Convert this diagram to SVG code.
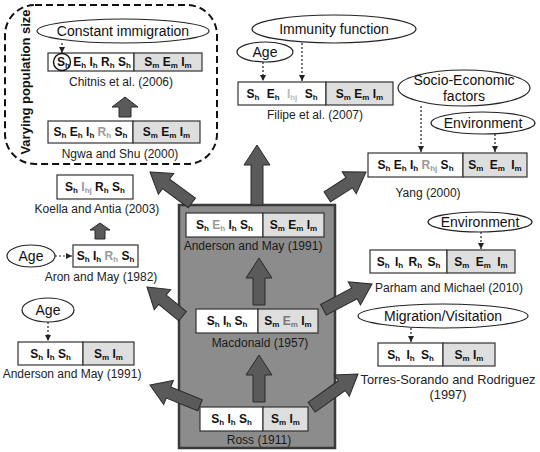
<svg xmlns="http://www.w3.org/2000/svg" width="540" height="452" viewBox="0 0 540 452">
<style>
.lb{font-family:"Liberation Sans",Arial,sans-serif;font-size:12px;fill:#222;text-anchor:middle}
.el{font-family:"Liberation Sans",Arial,sans-serif;font-size:14px;fill:#111;text-anchor:middle}
.c{font-family:"Liberation Sans",Arial,sans-serif;font-size:12px;font-weight:bold;fill:#111;text-anchor:middle}
.s{font-size:8px}
.g{fill:#999}
.lg{fill:#bbb}
.bw{fill:#fff;stroke:#333;stroke-width:1.2}
.bg{fill:#dedede;stroke:#333;stroke-width:1.2}
.ov{fill:#fff;stroke:#222;stroke-width:1.2}
.ba{fill:#5a5a5a;stroke:#2a2a2a;stroke-width:1}
.da{fill:none;stroke:#222;stroke-width:1.2;stroke-dasharray:2 2;marker-end:url(#ah)}
</style>
<defs>
<marker id="ah" viewBox="0 0 6 6" refX="6" refY="3" markerWidth="6" markerHeight="6" orient="auto" markerUnits="userSpaceOnUse"><path d="M0,0 L6,3 L0,6 z" fill="#222"/></marker>
</defs>
<rect width="540" height="452" fill="#fff"/>

<g id="core-region">
<rect x="179" y="205" width="156" height="243" fill="#8c8c8c" stroke="#3a3a3a" stroke-width="2.5"/>
</g>

<g id="varying-region">
<rect x="5" y="5" width="212" height="159" rx="30" ry="30" fill="none" stroke="#111" stroke-width="2" stroke-dasharray="7 4"/>
<text x="30" y="82" transform="rotate(-90 30 82)" style="font-family:'Liberation Sans',Arial,sans-serif;font-size:13px;font-weight:bold;fill:#111;text-anchor:middle">Varying population size</text>
</g>

<g id="connectors">
<polygon class="ba" transform="translate(257,145)" points="0,0 13,20 6,20 6,60 -6,60 -6,20 -13,20"/>
<polygon class="ba" transform="translate(150,172) rotate(-53.6)" points="0,0 13,20 6,20 6,52 -6,52 -6,20 -13,20"/>
<polygon class="ba" transform="translate(147,287) rotate(-50.7)" points="0,0 13,20 6,20 6,46 -6,46 -6,20 -13,20"/>
<polygon class="ba" transform="translate(150,385) rotate(-68)" points="0,0 13,20 6,20 6,54 -6,54 -6,20 -13,20"/>
<polygon class="ba" transform="translate(366,172) rotate(57.3)" points="0,0 13,20 6,20 6,46 -6,46 -6,20 -13,20"/>
<polygon class="ba" transform="translate(372,284) rotate(62)" points="0,0 13,20 6,20 6,55 -6,55 -6,20 -13,20"/>
<polygon class="ba" transform="translate(358,374) rotate(54.4)" points="0,0 13,20 6,20 6,57 -6,57 -6,20 -13,20"/>
<polygon class="ba" transform="translate(259,258)" points="0,0 13,20 6,20 6,47 -6,47 -6,20 -13,20"/>
<polygon class="ba" transform="translate(259,355)" points="0,0 13,20 6,20 6,47 -6,47 -6,20 -13,20"/>
<polygon class="ba" transform="translate(125,97)" points="0,0 13,10 6,10 6,20 -6,20 -6,10 -13,10"/>
<polygon class="ba" transform="translate(100,223)" points="0,0 10,7 5,7 5,16 -5,16 -5,7 -10,7"/>
<line class="da" x1="62" y1="43" x2="62" y2="53"/>
<line class="da" x1="55" y1="256" x2="72" y2="256"/>
<line class="da" x1="48" y1="322" x2="48" y2="341"/>
<line class="da" x1="263" y1="62" x2="263" y2="81"/>
<line class="da" x1="302" y1="43" x2="302" y2="81"/>
<line class="da" x1="421" y1="106" x2="421" y2="152"/>
<line class="da" x1="495" y1="134" x2="495" y2="152"/>
<line class="da" x1="481" y1="232" x2="481" y2="249"/>
<line class="da" x1="411" y1="328" x2="411" y2="342"/>
</g>

<g id="constant-immigration">
<ellipse class="ov" cx="123" cy="31" rx="86" ry="12"/>
<text class="el" x="123" y="36">Constant immigration</text>
</g>

<g id="chitnis">
<rect class="bw" x="48" y="53" width="86" height="18"/>
<rect class="bg" x="134" y="53" width="68" height="18"/>
<circle cx="62" cy="62" r="8.5" fill="none" stroke="#111" stroke-width="1.4"/>
<text class="c" x="57" y="66" style="text-anchor:start">S<tspan class="s" dy="2">h</tspan><tspan dy="-2"> E</tspan><tspan class="s" dy="2">h</tspan><tspan dy="-2"> I</tspan><tspan class="s" dy="2">h</tspan><tspan dy="-2"> R</tspan><tspan class="s" dy="2">h</tspan><tspan dy="-2"> S</tspan><tspan class="s" dy="2">h</tspan></text>
<text class="c" x="168" y="66">S<tspan class="s" dy="2">m</tspan><tspan dy="-2"> E</tspan><tspan class="s" dy="2">m</tspan><tspan dy="-2"> I</tspan><tspan class="s" dy="2">m</tspan></text>
<text class="lb" x="121" y="86">Chitnis et al. (2006)</text>
</g>

<g id="ngwa">
<rect class="bw" x="48" y="121" width="85" height="22"/>
<rect class="bg" x="133" y="121" width="67" height="22"/>
<text class="c" x="90.5" y="136">S<tspan class="s" dy="2">h</tspan><tspan dy="-2"> E</tspan><tspan class="s" dy="2">h</tspan><tspan dy="-2"> I</tspan><tspan class="s" dy="2">h</tspan><tspan dy="-2" class="g"> R</tspan><tspan class="s g" dy="2">h</tspan><tspan dy="-2"> S</tspan><tspan class="s" dy="2">h</tspan></text>
<text class="c" x="166.5" y="136">S<tspan class="s" dy="2">m</tspan><tspan dy="-2"> E</tspan><tspan class="s" dy="2">m</tspan><tspan dy="-2"> I</tspan><tspan class="s" dy="2">m</tspan></text>
<text class="lb" x="120" y="158">Ngwa and Shu (2000)</text>
</g>

<g id="koella">
<rect class="bw" x="57" y="175" width="76" height="24"/>
<text class="c" x="95" y="191">S<tspan class="s" dy="2">h</tspan><tspan dy="-2" class="g"> I</tspan><tspan class="s g" dy="2">hj</tspan><tspan dy="-2"> R</tspan><tspan class="s" dy="2">h</tspan><tspan dy="-2"> S</tspan><tspan class="s" dy="2">h</tspan></text>
<text class="lb" x="97" y="213">Koella and Antia (2003)</text>
</g>

<g id="age-aron">
<ellipse class="ov" cx="31" cy="256" rx="24" ry="11"/>
<text class="el" x="31" y="261">Age</text>
</g>

<g id="aron">
<rect class="bw" x="73" y="245" width="65" height="22"/>
<text class="c" x="105.5" y="260">S<tspan class="s" dy="2">h</tspan><tspan dy="-2"> I</tspan><tspan class="s" dy="2">h</tspan><tspan dy="-2" class="g"> R</tspan><tspan class="s g" dy="2">h</tspan><tspan dy="-2"> S</tspan><tspan class="s" dy="2">h</tspan></text>
<text class="lb" x="101" y="281">Aron and May (1982)</text>
</g>

<g id="age-anderson">
<ellipse class="ov" cx="48" cy="310" rx="26" ry="12"/>
<text class="el" x="48" y="315">Age</text>
</g>

<g id="anderson-left">
<rect class="bw" x="18" y="342" width="65" height="23"/>
<rect class="bg" x="83" y="342" width="51" height="23"/>
<text class="c" x="50.5" y="358">S<tspan class="s" dy="2">h</tspan><tspan dy="-2"> I</tspan><tspan class="s" dy="2">h</tspan><tspan dy="-2"> S</tspan><tspan class="s" dy="2">h</tspan></text>
<text class="c" x="108.5" y="358">S<tspan class="s" dy="2">m</tspan><tspan dy="-2"> I</tspan><tspan class="s" dy="2">m</tspan></text>
<text class="lb" x="72" y="378">Anderson and May (1991)</text>
</g>

<g id="anderson-center">
<rect class="bw" x="186" y="213" width="77" height="24"/>
<rect class="bg" x="263" y="213" width="61" height="24"/>
<text class="c" x="224.5" y="229">S<tspan class="s" dy="2">h</tspan><tspan dy="-2" class="g"> E</tspan><tspan class="s g" dy="2">h</tspan><tspan dy="-2"> I</tspan><tspan class="s" dy="2">h</tspan><tspan dy="-2"> S</tspan><tspan class="s" dy="2">h</tspan></text>
<text class="c" x="293.5" y="229">S<tspan class="s" dy="2">m</tspan><tspan dy="-2"> E</tspan><tspan class="s" dy="2">m</tspan><tspan dy="-2"> I</tspan><tspan class="s" dy="2">m</tspan></text>
<text class="lb" x="253" y="250" style="fill:#1a1a1a">Anderson and May (1991)</text>
</g>

<g id="macdonald">
<rect class="bw" x="196" y="309" width="62" height="24"/>
<rect class="bg" x="258" y="309" width="60" height="24"/>
<text class="c" x="227" y="325">S<tspan class="s" dy="2">h</tspan><tspan dy="-2"> I</tspan><tspan class="s" dy="2">h</tspan><tspan dy="-2"> S</tspan><tspan class="s" dy="2">h</tspan></text>
<text class="c" x="288" y="325">S<tspan class="s" dy="2">m</tspan><tspan dy="-2" style="fill:#777"> E</tspan><tspan class="s" style="fill:#777" dy="2">m</tspan><tspan dy="-2"> I</tspan><tspan class="s" dy="2">m</tspan></text>
<text class="lb" x="260" y="347" style="fill:#1a1a1a">Macdonald (1957)</text>
</g>

<g id="ross">
<rect class="bw" x="200" y="407" width="63" height="24"/>
<rect class="bg" x="263" y="407" width="45" height="24"/>
<text class="c" x="231.5" y="423">S<tspan class="s" dy="2">h</tspan><tspan dy="-2"> I</tspan><tspan class="s" dy="2">h</tspan><tspan dy="-2"> S</tspan><tspan class="s" dy="2">h</tspan></text>
<text class="c" x="285.5" y="423">S<tspan class="s" dy="2">m</tspan><tspan dy="-2"> I</tspan><tspan class="s" dy="2">m</tspan></text>
<text class="lb" x="259" y="444" style="fill:#1a1a1a">Ross (1911)</text>
</g>

<g id="immunity-function">
<ellipse class="ov" cx="334" cy="29" rx="82" ry="14"/>
<text class="el" x="334" y="34">Immunity function</text>
</g>

<g id="age-filipe">
<ellipse class="ov" cx="265" cy="52" rx="28" ry="10"/>
<text class="el" x="265" y="57">Age</text>
</g>

<g id="filipe">
<rect class="bw" x="238" y="82" width="88" height="23"/>
<rect class="bg" x="326" y="82" width="67" height="23"/>
<text class="c" x="282" y="98" word-spacing="4">S<tspan class="s" dy="2">h</tspan><tspan dy="-2"> E</tspan><tspan class="s" dy="2">h</tspan><tspan dy="-2" class="lg"> I</tspan><tspan class="s lg" dy="2">hj</tspan><tspan dy="-2"> S</tspan><tspan class="s" dy="2">h</tspan></text>
<text class="c" x="359.5" y="98">S<tspan class="s" dy="2">m</tspan><tspan dy="-2"> E</tspan><tspan class="s" dy="2">m</tspan><tspan dy="-2"> I</tspan><tspan class="s" dy="2">m</tspan></text>
<text class="lb" x="315" y="119">Filipe et al. (2007)</text>
</g>

<g id="socio-economic">
<ellipse class="ov" cx="464" cy="88" rx="66" ry="18"/>
<text class="el" x="464" y="85">Socio-Economic</text>
<text class="el" x="464" y="101">factors</text>
</g>

<g id="environment-yang">
<ellipse class="ov" cx="483" cy="123" rx="52" ry="11"/>
<text class="el" x="483" y="128">Environment</text>
</g>

<g id="yang">
<rect class="bw" x="368" y="153" width="95" height="24"/>
<rect class="bg" x="463" y="153" width="64" height="24"/>
<text class="c" x="415.5" y="169">S<tspan class="s" dy="2">h</tspan><tspan dy="-2"> E</tspan><tspan class="s" dy="2">h</tspan><tspan dy="-2"> I</tspan><tspan class="s" dy="2">h</tspan><tspan dy="-2" class="g"> R</tspan><tspan class="s g" dy="2">hj</tspan><tspan dy="-2"> S</tspan><tspan class="s" dy="2">h</tspan></text>
<text class="c" x="495" y="169" word-spacing="3">S<tspan class="s" dy="2">m</tspan><tspan dy="-2"> E</tspan><tspan class="s" dy="2">m</tspan><tspan dy="-2"> I</tspan><tspan class="s" dy="2">m</tspan></text>
<text class="lb" x="428" y="197">Yang (2000)</text>
</g>

<g id="environment-parham">
<ellipse class="ov" cx="480" cy="222" rx="52" ry="10"/>
<text class="el" x="480" y="227">Environment</text>
</g>

<g id="parham">
<rect class="bw" x="370" y="250" width="77" height="23"/>
<rect class="bg" x="447" y="250" width="68" height="23"/>
<text class="c" x="408.5" y="266" word-spacing="2">S<tspan class="s" dy="2">h</tspan><tspan dy="-2"> I</tspan><tspan class="s" dy="2">h</tspan><tspan dy="-2"> R</tspan><tspan class="s" dy="2">h</tspan><tspan dy="-2"> S</tspan><tspan class="s" dy="2">h</tspan></text>
<text class="c" x="481" y="266" word-spacing="3">S<tspan class="s" dy="2">m</tspan><tspan dy="-2"> E</tspan><tspan class="s" dy="2">m</tspan><tspan dy="-2"> I</tspan><tspan class="s" dy="2">m</tspan></text>
<text class="lb" x="449" y="292">Parham and Michael (2010)</text>
</g>

<g id="migration-visitation">
<ellipse class="ov" cx="443" cy="316" rx="85" ry="12"/>
<text class="el" x="443" y="321">Migration/Visitation</text>
</g>

<g id="torres">
<rect class="bw" x="378" y="343" width="65" height="23"/>
<rect class="bg" x="443" y="343" width="52" height="23"/>
<text class="c" x="410.5" y="359" word-spacing="3">S<tspan class="s" dy="2">h</tspan><tspan dy="-2"> I</tspan><tspan class="s" dy="2">h</tspan><tspan dy="-2"> S</tspan><tspan class="s" dy="2">h</tspan></text>
<text class="c" x="469" y="359">S<tspan class="s" dy="2">m</tspan><tspan dy="-2"> I</tspan><tspan class="s" dy="2">m</tspan></text>
<text class="lb" x="448" y="384" style="font-size:12.8px">Torres-Sorando and Rodriguez</text>
<text class="lb" x="448" y="399" style="font-size:12.8px">(1997)</text>
</g>
</svg>
